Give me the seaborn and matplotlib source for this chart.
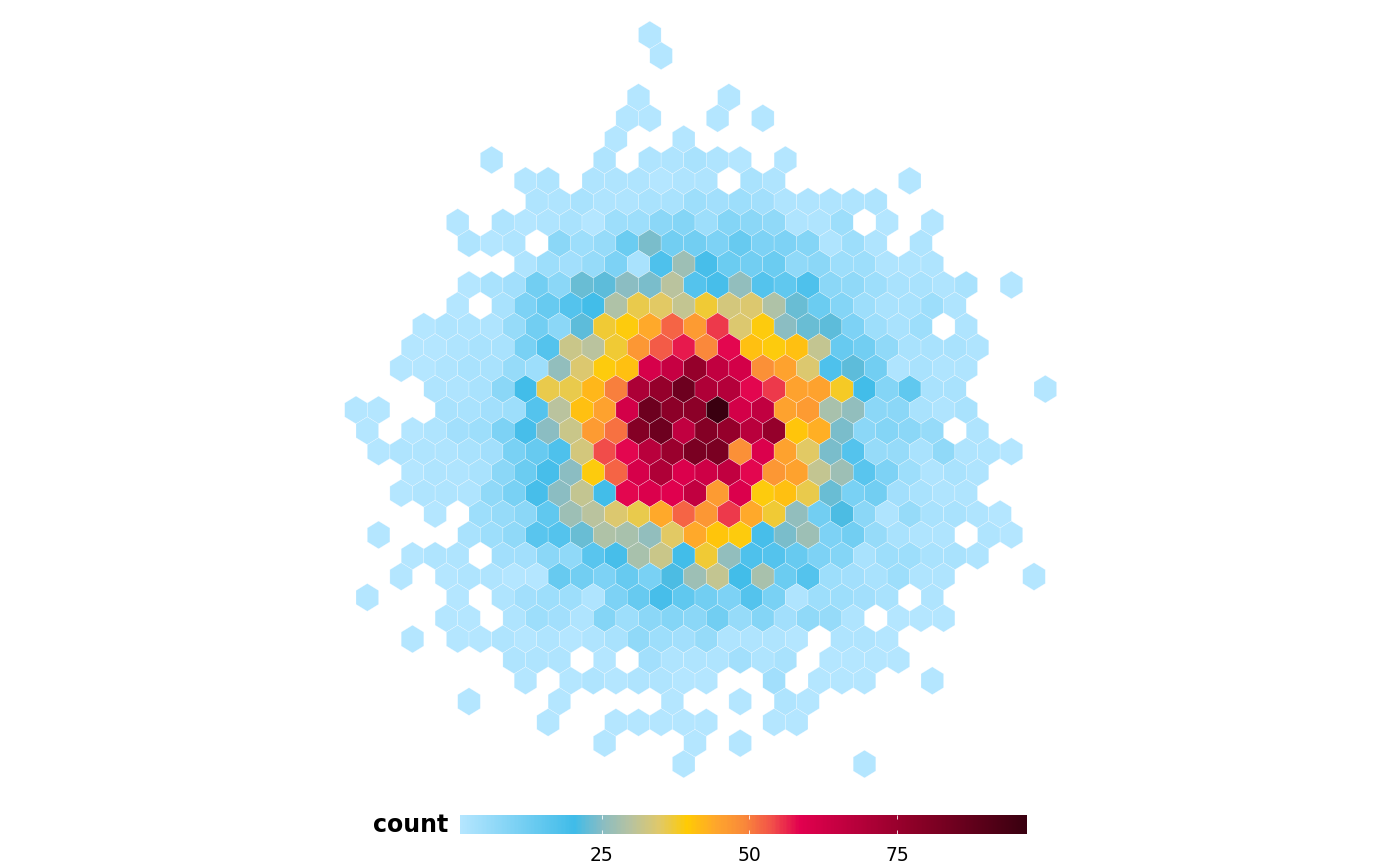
"""
Hexbin count map: 36 rows of hexagon bins, colour shows the count in each bin.
Counts are read off the picture by colour.
"""
import numpy as np
import pandas as pd
import matplotlib
matplotlib.use("Agg")
import matplotlib.pyplot as plt
from matplotlib.colors import LinearSegmentedColormap, Normalize
from matplotlib.path import Path
import seaborn as sns

sns.set_style("white")

# ---------------------------------------------------------------
# 1. Data: first bin column of each row, then the counts (0 = empty bin)
# ---------------------------------------------------------------
first_col = [13, 13, 0, 12, 12, 11, 6, 7, 8, 4, 5, 7, 5, 4, 3, 2, 2, 3,
             0, 0, 1, 2, 2, 3, 1, 2, 2, 0, 4, 2, 7, 7, 5, 8, 11, 14]

row_00 = [1]
row_01 = [1]
row_02 = []
row_03 = [1, 0, 0, 0, 1]
row_04 = [1, 1, 0, 0, 1, 0, 1]
row_05 = [1, 0, 0, 1]
row_06 = [1, 0, 0, 0, 0, 2, 0, 2, 2, 3, 2, 1, 0, 1]
row_07 = [1, 2, 0, 2, 2, 2, 1, 2, 2, 0, 3, 2, 0, 0, 0, 0, 0, 1]
row_08 = [2, 2, 3, 2, 2, 3, 3, 5, 4, 5, 4, 2, 2, 2, 2, 2]
row_09 = [1, 0, 2, 1, 2, 3, 1, 5, 5, 8, 9, 5, 9, 8, 7, 2, 2, 5, 0, 1, 0, 1]
row_10 = [2, 1, 2, 0, 8, 5, 6, 13, 24, 12, 12, 10, 14, 10, 10, 9, 2, 5, 2, 0, 2]
row_11 = [2, 5, 4, 6, 10, 3, 18, 27, 19, 13, 12, 13, 7, 8, 5, 5, 2, 2, 2]
row_12 = [1, 3, 4, 12, 8, 23, 22, 25, 24, 30, 17, 19, 26, 17, 15, 18, 8, 7, 5, 3, 3, 2, 3, 0, 1]
row_13 = [1, 0, 3, 10, 14, 17, 20, 29, 36, 35, 31, 37, 33, 34, 29, 23, 13, 9, 5, 3, 3, 5, 2]
row_14 = [1, 2, 2, 2, 6, 12, 8, 22, 37, 39, 44, 52, 46, 55, 34, 39, 25, 23, 22, 10, 5, 3, 5, 0, 2]
row_15 = [1, 1, 2, 3, 3, 11, 17, 32, 30, 37, 47, 53, 57, 49, 58, 41, 39, 41, 31, 14, 12, 7, 3, 3, 3, 2]
row_16 = [1, 1, 2, 3, 3, 6, 5, 26, 34, 39, 41, 61, 65, 76, 66, 62, 48, 45, 34, 18, 22, 12, 2, 3, 2, 2]
row_17 = [2, 2, 3, 8, 20, 36, 36, 42, 50, 71, 76, 85, 70, 69, 58, 55, 45, 45, 38, 20, 9, 15, 3, 3, 0, 0, 0, 1]
row_18 = [1, 1, 0, 0, 3, 3, 4, 5, 17, 30, 41, 45, 62, 85, 78, 78, 97, 62, 66, 45, 46, 28, 26, 8, 8, 3, 2, 3]
row_19 = [1, 0, 1, 2, 4, 5, 10, 19, 25, 32, 46, 51, 80, 85, 66, 80, 76, 68, 76, 40, 43, 24, 8, 9, 8, 6, 0, 2]
row_20 = [1, 2, 2, 2, 3, 4, 11, 14, 18, 33, 54, 58, 68, 75, 82, 82, 48, 60, 45, 35, 24, 17, 6, 6, 3, 7, 2, 2, 1]
row_21 = [1, 2, 2, 3, 8, 13, 19, 25, 39, 52, 61, 70, 60, 63, 66, 58, 47, 45, 31, 27, 16, 10, 5, 2, 3, 2]
row_22 = [1, 2, 2, 2, 7, 11, 19, 25, 31, 20, 58, 60, 59, 66, 46, 60, 39, 41, 36, 23, 11, 12, 4, 3, 2, 2]
row_23 = [1, 0, 5, 6, 8, 15, 27, 30, 34, 36, 44, 52, 47, 55, 44, 37, 26, 12, 21, 8, 2, 6, 3, 3, 2, 1]
row_24 = [1, 0, 0, 0, 3, 5, 7, 16, 17, 23, 29, 28, 26, 35, 44, 40, 39, 19, 24, 27, 10, 12, 6, 3, 2, 2, 0, 2, 1]
row_25 = [1, 2, 2, 0, 4, 4, 8, 7, 16, 19, 28, 32, 20, 37, 26, 18, 17, 14, 10, 9, 3, 5, 5, 3, 3, 2]
row_26 = [1, 0, 1, 2, 2, 1, 1, 14, 12, 10, 14, 11, 21, 27, 31, 20, 28, 13, 17, 5, 4, 3, 5, 2, 2, 0, 0, 0, 1]
row_27 = [1, 0, 0, 0, 1, 0, 2, 4, 5, 5, 2, 10, 14, 19, 15, 12, 10, 17, 11, 2, 5, 5, 4, 3, 0, 2]
row_28 = [1, 1, 0, 2, 5, 4, 2, 9, 5, 8, 9, 8, 12, 6, 9, 4, 7, 6, 2, 0, 1, 1, 1]
row_29 = [1, 0, 1, 1, 2, 1, 2, 1, 2, 3, 7, 5, 4, 6, 2, 2, 2, 1, 0, 2, 2, 1]
row_30 = [2, 2, 2, 0, 1, 0, 4, 2, 2, 2, 4, 2, 3, 0, 1, 1, 1, 1]
row_31 = [1, 0, 1, 2, 1, 2, 2, 1, 1, 0, 0, 4, 0, 1, 1, 1, 0, 0, 1]
row_32 = [1, 0, 0, 0, 1, 0, 0, 0, 0, 1, 0, 0, 1, 0, 2, 1]
row_33 = [1, 0, 0, 1, 1, 1, 1, 1, 0, 0, 1, 1]
row_34 = [1, 0, 0, 0, 1, 0, 1]
row_35 = [1, 0, 0, 0, 0, 0, 0, 0, 1]

all_rows = [row_00, row_01, row_02, row_03, row_04, row_05, row_06, row_07, row_08,
            row_09, row_10, row_11, row_12, row_13, row_14, row_15, row_16, row_17,
            row_18, row_19, row_20, row_21, row_22, row_23, row_24, row_25, row_26,
            row_27, row_28, row_29, row_30, row_31, row_32, row_33, row_34, row_35]

colorbar_ticks = [25, 50, 75]
count_min, count_max = 1, 97
# the gradient runs through greys between blue and yellow, so it needs a few extra stops
palette_stops = [0.0, 0.2, 0.25, 0.3, 0.35, 0.4, 0.45, 0.5, 0.55, 0.6, 0.8, 1.0]
palette_colors = ["#B4E6FF", "#40BCE9", "#8ABDC3", "#B8C3A0", "#E0C96A", "#FFCB05",
                  "#FFA72C", "#FA8A3A", "#F2514A", "#E2004F", "#8E0028", "#3A0010"]

records = []
for r, (start, counts) in enumerate(zip(first_col, all_rows)):
    for i, n in enumerate(counts):
        if n > 0:
            records.append({"col": start + i + 0.5 * (r % 2), "row": r, "count": n})
df = pd.DataFrame(records)

# ---------------------------------------------------------------
# 2. Figure layout (pixel sizes of the bins)
# ---------------------------------------------------------------
W, H = 1400, 865
X0, Y0 = 356.0, 35.0   # pixel centre of bin (col 0, row 0)
DX, DY = 22.6, 20.83   # pixel spacing of bin columns / rows

plt.rcParams["font.family"] = ["DejaVu Sans"]
fig = plt.figure(figsize=(W / 100, H / 100), dpi=100)
cmap = LinearSegmentedColormap.from_list("count", list(zip(palette_stops, palette_colors)))

ax = fig.add_axes([0, 0, 1, 1])
ax.set_xlim(-X0 / DX, (W - X0) / DX)
ax.set_ylim((H - Y0) / DY, -Y0 / DY)
ax.axis("off")

# hexagon stretched to fit the grid (ggplot hexes are not regular on screen)
hw, hh = DX / 2, DY * 2 / 3
hex_path = Path([(0, hh), (hw, hh / 2), (hw, -hh / 2), (0, -hh), (-hw, -hh / 2), (-hw, hh / 2), (0, hh)], closed=True)
hex_size = (2 * hh * 0.72) ** 2

sns.scatterplot(data=df, x="col", y="row", hue="count", palette=cmap,
                hue_norm=(count_min, count_max), marker=hex_path, s=hex_size,
                edgecolor=(1, 1, 1, 0.55), linewidth=0.3, legend=False, ax=ax)

# ---------------------------------------------------------------
# 3. Colour bar
# ---------------------------------------------------------------
cax = fig.add_axes([460 / W, 1 - 834 / H, 567 / W, 19 / H])
values = np.linspace(count_min, count_max, 400)
cax.imshow(values[np.newaxis, :], aspect="auto", cmap=cmap,
           norm=Normalize(count_min, count_max),
           extent=(count_min, count_max, 0, 1))
for s in cax.spines.values():
    s.set_visible(False)
cax.set_yticks([])
cax.set_xticks(colorbar_ticks)
cax.tick_params(axis="x", length=0, pad=8.5, labelsize=13.5, labelcolor="black")
cax.vlines(colorbar_ticks, 0, 0.2, color="white", linewidth=0.6)
cax.vlines(colorbar_ticks, 0.8, 1, color="white", linewidth=0.6)

fig.text(448 / W, 1 - 824.5 / H, "count", ha="right", va="center",
         fontsize=17, fontweight="bold", color="black")

plt.savefig("out.png", dpi=100)
plt.close()
